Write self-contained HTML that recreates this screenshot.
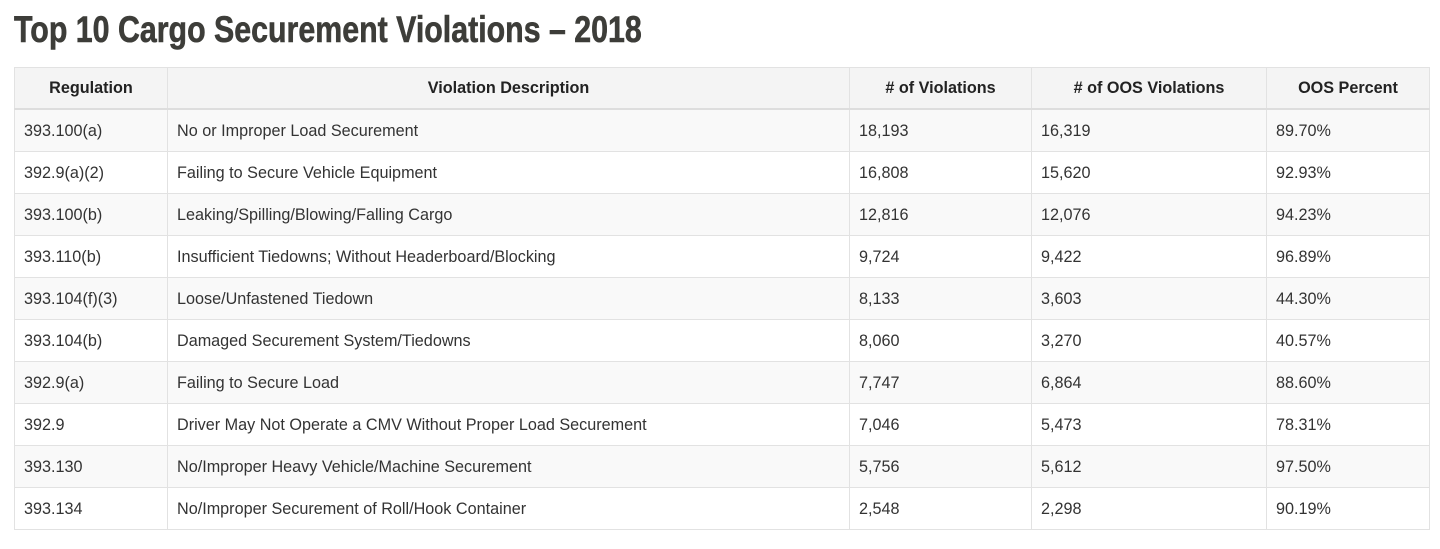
<!DOCTYPE html>
<html><head><style>
html,body{margin:0;padding:0;background:#fff;width:1440px;height:549px;overflow:hidden}
h1{position:absolute;left:14px;top:9px;margin:0;font-family:"Liberation Sans Narrow","Liberation Sans",sans-serif;font-weight:bold;font-size:37px;color:#3d3d39;transform:scaleX(0.82);transform-origin:left;white-space:nowrap;-webkit-text-stroke:0.6px #3d3d39}
table{position:absolute;left:14px;top:67px;border-collapse:collapse;font-family:"Liberation Sans",sans-serif;font-size:16.2px;color:#333}
td,th{border:1px solid #e2e2e2;height:41px;padding:0 0 0 9px;text-align:left;line-height:18px}
th{font-weight:bold;text-align:center;padding:0;background:#f4f4f4;border-bottom:2px solid #ddd;height:40px;color:#222}
tr:nth-child(odd) td{background:#f9f9f9}
tr:nth-child(even) td{background:#fff}
</style></head><body>
<h1>Top 10 Cargo Securement Violations – 2018</h1>
<table>
<colgroup><col style="width:153px"><col style="width:682px"><col style="width:182px"><col style="width:235px"><col style="width:163px"></colgroup>
<thead><tr><th>Regulation</th><th>Violation Description</th><th># of Violations</th><th># of OOS Violations</th><th>OOS Percent</th></tr></thead>
<tbody>
<tr><td>393.100(a)</td><td>No or Improper Load Securement</td><td>18,193</td><td>16,319</td><td>89.70%</td></tr>
<tr><td>392.9(a)(2)</td><td>Failing to Secure Vehicle Equipment</td><td>16,808</td><td>15,620</td><td>92.93%</td></tr>
<tr><td>393.100(b)</td><td>Leaking/Spilling/Blowing/Falling Cargo</td><td>12,816</td><td>12,076</td><td>94.23%</td></tr>
<tr><td>393.110(b)</td><td>Insufficient Tiedowns; Without Headerboard/Blocking</td><td>9,724</td><td>9,422</td><td>96.89%</td></tr>
<tr><td>393.104(f)(3)</td><td>Loose/Unfastened Tiedown</td><td>8,133</td><td>3,603</td><td>44.30%</td></tr>
<tr><td>393.104(b)</td><td>Damaged Securement System/Tiedowns</td><td>8,060</td><td>3,270</td><td>40.57%</td></tr>
<tr><td>392.9(a)</td><td>Failing to Secure Load</td><td>7,747</td><td>6,864</td><td>88.60%</td></tr>
<tr><td>392.9</td><td>Driver May Not Operate a CMV Without Proper Load Securement</td><td>7,046</td><td>5,473</td><td>78.31%</td></tr>
<tr><td>393.130</td><td>No/Improper Heavy Vehicle/Machine Securement</td><td>5,756</td><td>5,612</td><td>97.50%</td></tr>
<tr><td>393.134</td><td>No/Improper Securement of Roll/Hook Container</td><td>2,548</td><td>2,298</td><td>90.19%</td></tr>
</tbody></table>
</body></html>
